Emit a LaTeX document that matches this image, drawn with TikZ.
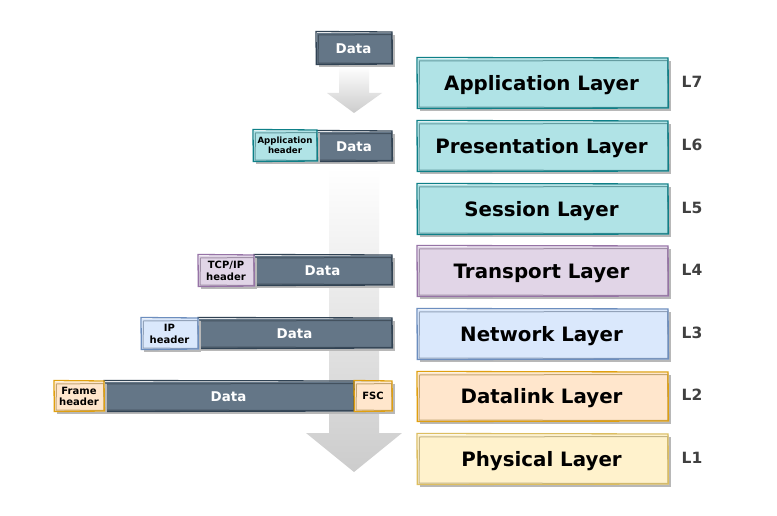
\documentclass[tikz,border=0pt]{standalone}
\usepackage{fontspec}
\setmainfont{DejaVu Sans}
\usetikzlibrary{calc}
\definecolor{tealF}{HTML}{B0E3E6}\definecolor{tealS}{HTML}{0E8088}
\definecolor{purpF}{HTML}{E1D5E7}\definecolor{purpS}{HTML}{9673A6}
\definecolor{blueF}{HTML}{DAE8FC}\definecolor{blueS}{HTML}{6C8EBF}
\definecolor{oranF}{HTML}{FFE6CC}\definecolor{oranS}{HTML}{E0A010}
\definecolor{yellF}{HTML}{FFF2CC}\definecolor{yellS}{HTML}{DDBE60}
\definecolor{dataF}{HTML}{647687}\definecolor{dataS}{HTML}{314354}
\tikzset{
  layertext/.style={font=\bfseries\fontsize{19.8}{22}\selectfont,text=black,yshift=-2pt,xshift=-1pt},
  headtext/.style={font=\bfseries\fontsize{10}{12.5}\selectfont,text=black,align=center,yshift=-.3pt},
  smalltext/.style={font=\bfseries\fontsize{8.6}{10.5}\selectfont,text=black,align=center},
  datatext/.style={font=\bfseries\fontsize{13.4}{15}\selectfont,text=white,yshift=-.5pt,xshift=-.5pt},
  leveltext/.style={font=\bfseries\fontsize{15.5}{17}\selectfont,text=black!75},
  flowarrow/.style={draw=none,top color=white,bottom color=black!20}
}
% name, x0, y0, x1, y1, fill, stroke, text style, text
\newcommand{\skbox}[9]{%
  \fill[black!28] (#2+3,#3+3) rectangle (#4+2.5,#5+3);
  \fill[white!85!black] (#2+1,#3+1) rectangle (#4+1,#5+1);
  \fill[#6] (#2+1,#3+1) rectangle (#4,#5);
  \draw[black!45!#7,line width=1pt,opacity=.45] (#2+2.5,#3+3) -- (#4-.5,#3+2.5) -- (#4,#5-.5) -- (#2+2,#5-1) -- cycle;
  \draw[#7,line width=1.3pt] (#2,#3-.5) -- (#4,#3) -- (#4+.4,#5) -- (#2+.3,#5+.5) -- cycle;
  \node[#8,inner sep=0pt] (#1) at ({(#2+#4)/2},{(#3+#5)/2}) {#9};
}
\begin{document}
\begin{tikzpicture}[x=1pt,y=-1pt]
\useasboundingbox (0,0) rectangle (777,516);
\fill[white] (0,0) rectangle (777,516);
% arrows
\path[flowarrow] (339,66) -- (369,66) -- (369,93) -- (382,93) -- (354,113) -- (327,93) -- (339,93) -- cycle;
\path[flowarrow] (329,168) -- (379,168) -- (379,433) -- (402,433) -- (354,472) -- (306,433) -- (329,433) -- cycle;
% data units
\skbox{d1}{316}{32}{392}{64}{dataF}{dataS}{datatext}{Data}
\skbox{d2}{317}{131}{392}{161}{dataF}{dataS}{datatext}{Data}
\skbox{h2}{253}{130}{317}{161}{tealF}{tealS}{smalltext}{Application\\[-1pt]header}
\skbox{d3}{254}{255}{392}{285}{dataF}{dataS}{datatext}{Data}
\skbox{h3}{198}{255}{254}{286}{purpF}{purpS}{headtext}{TCP/IP\\[-1pt]header}
\skbox{d4}{198}{318}{392}{348}{dataF}{dataS}{datatext}{Data}
\skbox{h4}{141}{318}{198}{349}{blueF}{blueS}{headtext}{IP\\[-1pt]header}
\skbox{d5}{104}{381}{354}{411}{dataF}{dataS}{datatext}{Data}
\skbox{h5}{54}{381}{104}{411}{oranF}{oranS}{headtext}{Frame\\[-1pt]header}
\skbox{t5}{354}{381}{392}{411}{oranF}{oranS}{headtext}{FSC}
% layers
\skbox{l7}{417}{58}{668}{108}{tealF}{tealS}{layertext}{Application Layer}
\skbox{l6}{417}{121}{668}{171}{tealF}{tealS}{layertext}{Presentation Layer}
\skbox{l5}{417}{184}{668}{234}{tealF}{tealS}{layertext}{Session Layer}
\skbox{l4}{417}{246}{668}{296}{purpF}{purpS}{layertext}{Transport Layer}
\skbox{l3}{417}{309}{668}{359}{blueF}{blueS}{layertext}{Network Layer}
\skbox{l2}{417}{372}{668}{421}{oranF}{oranS}{layertext}{Datalink Layer}
\skbox{l1}{417}{434}{668}{484}{yellF}{yellS}{layertext}{Physical Layer}
% level labels
\node[leveltext] (n7) at (692,82) {L7};
\node[leveltext] (n6) at (692,145) {L6};
\node[leveltext] (n5) at (692,208) {L5};
\node[leveltext] (n4) at (692,270) {L4};
\node[leveltext] (n3) at (692,333) {L3};
\node[leveltext] (n2) at (692,395) {L2};
\node[leveltext] (n1) at (692,458) {L1};
\end{tikzpicture}
\end{document}
